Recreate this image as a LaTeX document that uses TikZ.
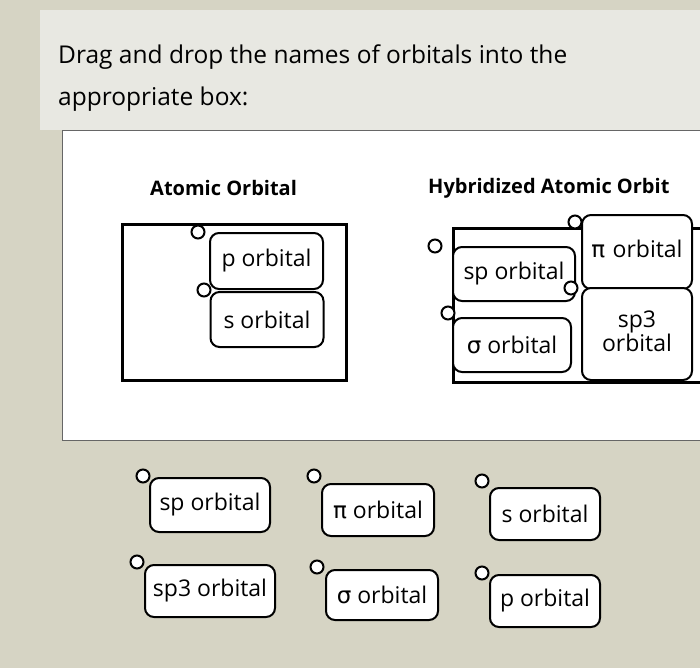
\documentclass[tikz,border=0pt]{standalone}
\usepackage{fontspec}
\setmainfont{Open Sans}
\begin{document}
\begin{tikzpicture}[x=1pt,y=-1pt,
  pill/.style={draw=black,line width=2pt,rounded corners=9pt,fill=white,font=\fontsize{23}{26}\selectfont,inner sep=0pt},
  handle/.style={draw=black,line width=2pt,circle,fill=white,minimum size=13pt,inner sep=0pt},
  bigbox/.style={draw=black,line width=3pt},
  head/.style={font=\fontsize{20}{22}\selectfont\bfseries,anchor=west}]
\useasboundingbox (0,0) rectangle (700,668);
\fill[color={rgb,255:red,214;green,212;blue,196}] (0,0) rectangle (700,668);
\fill[color={rgb,255:red,232;green,232;blue,226}] (40,10) rectangle (700,130);
\fill[white,draw=black!60] (62,130) rectangle (700,440);
\node[anchor=west,font=\fontsize{24.5}{28}\selectfont,inner sep=0pt] (t1) at (58,57) {Drag and drop the names of orbitals into the};
\node[anchor=west,font=\fontsize{24.5}{28}\selectfont,inner sep=0pt] (t2) at (58,99) {appropriate box:};
\node[head,inner sep=0pt] (h1) at (150,188) {Atomic Orbital};
\node[head,inner sep=0pt] (h2) at (428,188) {Hybridized Atomic Orbit};
\fill[white] (700,130) rectangle (710,440);
\draw[bigbox] (122,224) rectangle (346,380);
\node[pill,minimum width=113pt,minimum height=56pt] (p1) at (266.5,261) {p orbital};
\node[pill,minimum width=113pt,minimum height=55pt] (s1) at (267,319.5) {s orbital};
\node[handle] (c1) at (198,232) {};
\node[handle] (c2) at (204,290) {};
\begin{scope}
\clip (0,130) rectangle (700,440);
\draw[bigbox] (453,228) rectangle (710,382);
\node[pill,minimum width=110pt,minimum height=74pt] (pi1) at (637,252) {\raisebox{6pt}{\fontspec{DejaVu Sans}π \fontspec{Open Sans}orbital}};
\node[pill,minimum width=110pt,minimum height=92pt] (sp31) at (637,334) {\begin{tabular}{c}sp3\\[-2pt]orbital\end{tabular}};
\node[pill,minimum width=122pt,minimum height=54pt] (sp1) at (514,274) {sp orbital};
\node[pill,minimum width=118pt,minimum height=54pt] (sg1) at (512,345) {{\fontspec{DejaVu Sans}σ} orbital};
\node[handle] (c3) at (575,222) {};
\node[handle] (c4) at (435,246) {};
\node[handle] (c5) at (571,288) {};
\node[handle] (c6) at (448,313) {};
\end{scope}
\node[pill,minimum width=120pt,minimum height=54pt] (b1) at (210,505) {sp orbital};
\node[pill,minimum width=112pt,minimum height=52pt] (b2) at (378,510) {{\fontspec{DejaVu Sans}π} orbital};
\node[pill,minimum width=110pt,minimum height=52pt] (b3) at (545,514) {s orbital};
\node[pill,minimum width=130pt,minimum height=52pt] (b4) at (210,591) {sp3 orbital};
\node[pill,minimum width=112pt,minimum height=50pt] (b5) at (382,595) {{\fontspec{DejaVu Sans}σ} orbital};
\node[pill,minimum width=110pt,minimum height=52pt] (b6) at (545,601) {p orbital};
\node[handle] (d1) at (143,476) {};
\node[handle] (d2) at (314,476) {};
\node[handle] (d3) at (482,481) {};
\node[handle] (d4) at (137,562) {};
\node[handle] (d5) at (317,567) {};
\node[handle] (d6) at (482,573) {};
\end{tikzpicture}
\end{document}
